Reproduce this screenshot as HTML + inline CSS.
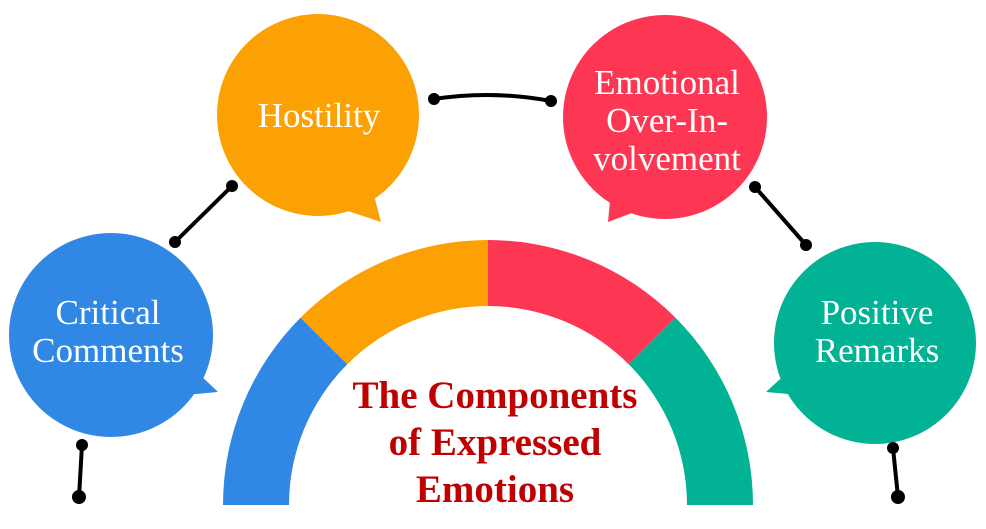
<!DOCTYPE html>
<html><head><meta charset="utf-8"><style>
body{margin:0;background:#fff;}
svg{display:block}
text{font-family:"Liberation Serif",serif;}
</style></head><body>
<svg width="986" height="529" viewBox="0 0 986 529">
<path d="M223,505 A265,265 0 0 1 300.6,317.6 L347.3,364.3 A199,199 0 0 0 289,505 Z" fill="#3188e4"/>
<path d="M300.6,317.6 A265,265 0 0 1 488,240 L488,306 A199,199 0 0 0 347.3,364.3 Z" fill="#fba104"/>
<path d="M488,240 A265,265 0 0 1 675.4,317.6 L628.7,364.3 A199,199 0 0 0 488,306 Z" fill="#fd3654"/>
<path d="M675.4,317.6 A265,265 0 0 1 753,505 L687,505 A199,199 0 0 0 628.7,364.3 Z" fill="#02b295"/>
<g font-weight="bold" fill="#c00000" font-size="39" text-anchor="middle">
<text x="495" y="408">The Components</text>
<text x="495" y="455">of Expressed</text>
<text x="495" y="502">Emotions</text>
</g>
<circle cx="111" cy="335" r="102" fill="#3188e4"/>
<path d="M195,370 L218,392 L185,395 Z" fill="#3188e4"/>
<circle cx="318" cy="115" r="101" fill="#fba104"/>
<path d="M370,180 L381,222 L345,210 Z" fill="#fba104"/>
<circle cx="665" cy="117" r="102" fill="#fd3654"/>
<path d="M612,180 L608,222 L640,210 Z" fill="#fd3654"/>
<circle cx="875" cy="343" r="101" fill="#02b295"/>
<path d="M790,370 L766,392 L800,395 Z" fill="#02b295"/>
<g fill="#fff" font-size="35" text-anchor="middle">
<text x="108" y="324">Critical</text>
<text x="108" y="362">Comments</text>
<text x="319" y="127">Hostility</text>
<text x="667" y="94">Emotional</text>
<text x="667" y="132">Over-In-</text>
<text x="667" y="170">volvement</text>
<text x="877" y="324">Positive</text>
<text x="877" y="362">Remarks</text>
</g>
<g stroke="#000" stroke-width="4" fill="none">
<path d="M175,242 L232,186"/>
<path d="M434,99 Q492,90 551,101"/>
<path d="M755,187 L806,245"/>
<path d="M82,445 L79,497"/>
<path d="M893,448 L898,497"/>
</g>
<g fill="#000">
<circle cx="175" cy="242" r="6"/><circle cx="232" cy="186" r="6"/>
<circle cx="434" cy="99" r="6"/><circle cx="551" cy="101" r="6"/>
<circle cx="755" cy="187" r="6"/><circle cx="806" cy="245" r="6"/>
<circle cx="82" cy="445" r="6"/><circle cx="79" cy="497" r="7"/>
<circle cx="893" cy="448" r="6"/><circle cx="898" cy="497" r="7"/>
</g>
</svg>
</body></html>
